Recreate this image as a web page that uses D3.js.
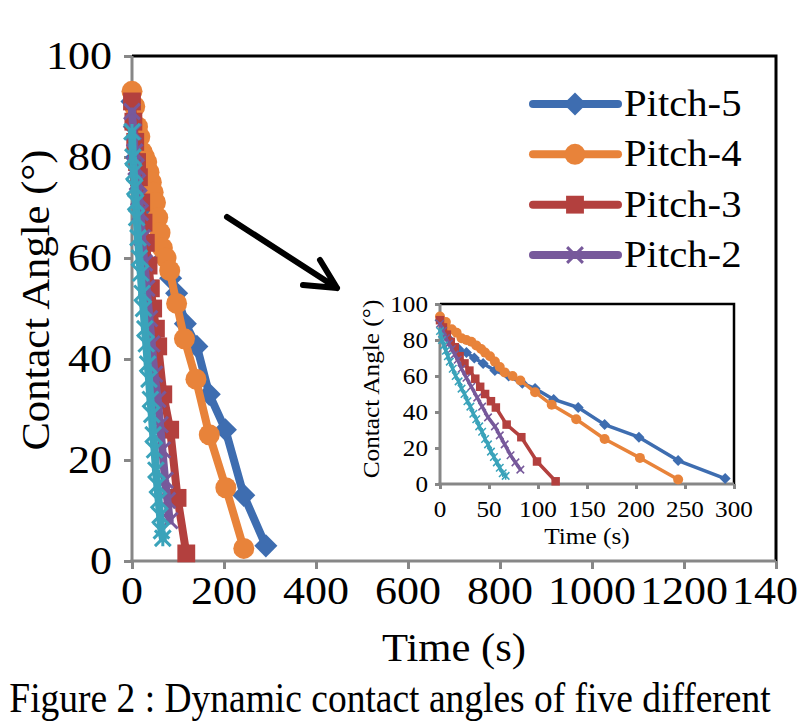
<!DOCTYPE html>
<html>
<head>
<meta charset="utf-8">
<script src="https://cdn.jsdelivr.net/npm/d3@7/dist/d3.min.js"></script>
<style>
  body { margin: 0; background: #fff; }
  svg text { font-family: "Liberation Serif", "Times New Roman", serif; fill: #000; }
</style>
</head>
<body>
<svg id="chart" width="798" height="728"></svg>
<script>
'use strict';

// data (time in s, contact angle in degrees)
var names = ["Pitch-5", "Pitch-4", "Pitch-3", "Pitch-2", "Pitch-1"];
var colors = ["#3e6db0", "#e8833a", "#b3403e", "#77599b", "#3aa3ba"];
var markers = ["diamond", "circle", "square", "cross", "star"];

var timeP5 = [0, 5, 10, 19, 27, 35, 44, 56, 70, 84, 97, 116, 141, 168, 203, 243, 291];
var angleP5 = [91, 86, 80, 75, 73, 70, 67, 63, 60, 56, 53, 47, 42.5, 33, 26, 13, 3];

var timeP4 = [0, 6, 12, 17, 22, 27, 32, 37, 42, 46, 51, 56, 61, 66, 74, 82, 97, 114, 139, 168, 204, 243];
var angleP4 = [93, 90, 86, 84, 81, 80, 79, 77, 75, 73, 71, 68, 65, 62, 60, 57.5, 51, 44, 36, 25, 14.5, 2.5];

var timeP3 = [0, 3, 7, 11, 15, 20, 25, 30, 36, 41, 46, 52, 57, 68, 83, 99, 118];
var angleP3 = [91, 87, 83, 79, 76, 71, 67, 63, 58.5, 54, 50, 46, 42.5, 33, 26, 12.5, 1.5];

var timeP2 = [0, 3, 6, 9, 12, 15, 18, 22, 27, 32, 38, 43, 49, 56, 61, 66, 72, 77, 82];
var angleP2 = [89, 85, 81, 78, 75, 72, 69, 64, 59, 54, 48, 43, 37, 32, 27, 22, 16, 12, 8];

var timeP1 = [0, 2, 4, 6, 8, 10, 13, 16, 19, 22, 25, 28, 31, 34, 37, 40, 43, 46, 49, 52, 55, 58, 61, 64, 67];
var angleP1 = [85, 80, 77, 74, 71, 68, 64, 60, 57, 53, 50, 46, 43, 39, 36, 32, 29, 25, 22, 18, 15, 12, 9, 6, 4.5];

var mainXTicks = [0, 200, 400, 600, 800, 1000, 1200, 1400];
var mainXLabels = ["0", "200", "400", "600", "800", "1000", "1200", "140"];
var yTicks = [0, 20, 40, 60, 80, 100];
var insetXTicks = [0, 50, 100, 150, 200, 250, 300];

var caption = "Figure 2 : Dynamic contact angles of five different";

var times = [timeP5, timeP4, timeP3, timeP2, timeP1];
var angles = [angleP5, angleP4, angleP3, angleP2, angleP1];

var series = names.map(function(n, i) {
  return {
    name: n, color: colors[i], marker: markers[i],
    points: times[i].map(function(t, j) { return { t: t, a: angles[i][j] }; })
  };
});

var svg = d3.select("#chart");
var axisGray = "#878787";

// text helper: the figure's serif text is stretched a little
function label(g, x, y, txt, size, anchor, sx, rot, sy) {
  var tr = "translate(" + x + "," + y + ")" + (rot ? " rotate(" + rot + ")" : "") +
    " scale(" + (sx || 1) + "," + (sy || 1) + ")";
  return g.append("text")
    .attr("transform", tr)
    .attr("text-anchor", anchor || "middle")
    .style("font-size", size + "px")
    .text(txt);
}

function markerPath(type, s) {
  var h = s / 2;
  if (type === "diamond") return "M0," + (-h) + "L" + h + ",0L0," + h + "L" + (-h) + ",0Z";
  if (type === "square") return "M" + (-h) + "," + (-h) + "H" + h + "V" + h + "H" + (-h) + "Z";
  if (type === "cross") return "M" + (-h) + "," + (-h) + "L" + h + "," + h + "M" + (-h) + "," + h + "L" + h + "," + (-h);
  if (type === "star") return "M" + (-h) + "," + (-h) + "L" + h + "," + h + "M" + (-h) + "," + h + "L" + h + "," + (-h) + "M0," + (-h) + "V" + h;
  return null;
}

function drawMarkers(g, d, x, y, size) {
  var sel = g.selectAll(".mk").data(d.points).enter();
  if (d.marker === "circle") {
    sel.append("circle")
      .attr("cx", function(p) { return x(p.t); })
      .attr("cy", function(p) { return y(p.a); })
      .attr("r", size / 2)
      .attr("fill", d.color);
  } else {
    var stroked = d.marker === "cross" || d.marker === "star";
    var s = stroked ? size * 0.75 : d.marker === "square" ? size * 0.85 : size * 1.1;
    sel.append("path")
      .attr("transform", function(p) { return "translate(" + x(p.t) + "," + y(p.a) + ")"; })
      .attr("d", markerPath(d.marker, s))
      .attr("fill", stroked ? "none" : d.color)
      .attr("stroke", stroked ? d.color : "none")
      .attr("stroke-width", stroked ? Math.max(1.5, size / 7) : 0);
  }
}

function drawPanel(opt) {
  var g = svg.append("g");
  var x = d3.scaleLinear().domain(opt.xDomain).range([opt.left, opt.right]);
  var y = d3.scaleLinear().domain([0, 100]).range([opt.bottom, opt.top]);

  g.append("rect")
    .attr("x", opt.left).attr("y", opt.top)
    .attr("width", opt.right - opt.left).attr("height", opt.bottom - opt.top)
    .attr("fill", "#fff");

  // black frame top and right
  g.append("path")
    .attr("d", "M" + opt.left + "," + opt.top + "H" + opt.right + "V" + opt.bottom)
    .attr("fill", "none").attr("stroke", "#000").attr("stroke-width", opt.frameW);

  var ya = g.append("g")
    .attr("transform", "translate(" + opt.left + ",0)")
    .call(d3.axisLeft(y).tickValues(yTicks).tickSize(opt.tick).tickFormat(""));
  var xa = g.append("g")
    .attr("transform", "translate(0," + opt.bottom + ")")
    .call(d3.axisBottom(x).tickValues(opt.xTicks).tickSize(opt.tick).tickFormat(""));
  [ya, xa].forEach(function(a) {
    a.selectAll("path, line").attr("stroke", axisGray).attr("stroke-width", opt.axisW);
    a.select(".domain").attr("d", a === ya
      ? "M0," + opt.top + "V" + (opt.bottom + opt.axisW / 2)
      : "M" + (opt.left - opt.axisW / 2) + ",0H" + opt.right);
  });

  yTicks.forEach(function(v) {
    label(g, opt.left - opt.yLabGap, y(v) + opt.tickFont * 0.33, String(v), opt.tickFont, "end", opt.sx);
  });
  opt.xTicks.forEach(function(v, i) {
    var lab = opt.xLabels[i];
    if (lab !== String(v)) {
      // label clipped by the figure edge: keep the left part where the full one would start
      var full = label(g, x(v), opt.xLabY, String(v), opt.tickFont, "middle", opt.sx);
      var w = full.node().getBBox().width * opt.sx;
      full.remove();
      label(g, x(v) - w / 2, opt.xLabY, lab, opt.tickFont, "start", opt.sx);
    } else {
      label(g, x(v), opt.xLabY, lab, opt.tickFont, "middle", opt.sx);
    }
  });
  label(g, (opt.left + opt.right) / 2 + opt.xTitleDx, opt.xTitleY, "Time (s)", opt.titleFont, "middle", opt.titleSx);
  label(g, opt.yTitleX, opt.yTitleY, "Contact Angle (\u00b0)", opt.titleFont, "middle", opt.titleSx, -90);

  var line = d3.line()
    .x(function(p) { return x(p.t); })
    .y(function(p) { return y(p.a); });

  series.forEach(function(d) {
    var sg = g.append("g");
    sg.append("path")
      .attr("d", line(d.points))
      .attr("fill", "none")
      .attr("stroke", d.color)
      .attr("stroke-width", opt.lineW)
      .attr("stroke-linejoin", "round")
      .attr("stroke-linecap", "round");
    drawMarkers(sg, d, x, y, opt.markerSize);
  });
  return g;
}

// main chart
drawPanel({
  xDomain: [0, 1400], left: 132, right: 776, top: 56, bottom: 561,
  xTicks: mainXTicks, xLabels: mainXLabels,
  tick: 8, axisW: 3, frameW: 3, lineW: 8, markerSize: 21,
  tickFont: 40, sx: 1.1, yLabGap: 20, xLabY: 604,
  titleFont: 41, titleSx: 1.04, xTitleDx: 0, xTitleY: 661, yTitleX: 49, yTitleY: 300
});

// legend (Pitch-1 falls outside the legend box in the figure)
var legend = svg.append("g");
var legendY = d3.scalePoint().domain(names.slice(0, 4)).range([104, 255]);
series.slice(0, 4).forEach(function(d) {
  var ly = legendY(d.name);
  legend.append("line")
    .attr("x1", 533).attr("x2", 618).attr("y1", ly).attr("y2", ly)
    .attr("stroke", d.color).attr("stroke-width", 8).attr("stroke-linecap", "round");
  drawMarkers(legend, { color: d.color, marker: d.marker, points: [{ t: 0, a: 0 }] },
    function() { return 575; }, function() { return ly; }, 21);
  label(legend, 624, ly + 12, d.name, 37, "start", 1.1);
});

// arrow pointing at the zoomed inset
svg.append("path")
  .attr("d", "M227,217L337,288M320,260L337,288L303,285")
  .attr("fill", "none").attr("stroke", "#000").attr("stroke-width", 6)
  .attr("stroke-linecap", "round").attr("stroke-linejoin", "round");

// inset, first 300 s
drawPanel({
  xDomain: [0, 300], left: 440, right: 734, top: 304, bottom: 484,
  xTicks: insetXTicks, xLabels: insetXTicks.map(String),
  tick: 5, axisW: 3, frameW: 2.5, lineW: 3.5, markerSize: 10,
  tickFont: 24, sx: 1.05, yLabGap: 12, xLabY: 517,
  titleFont: 23, titleSx: 1.1, xTitleDx: 0, xTitleY: 544, yTitleX: 379, yTitleY: 389
});

label(svg, 390, 712, caption, 37.5, "middle", 1, 0, 1.1);
</script>
</body>
</html>
